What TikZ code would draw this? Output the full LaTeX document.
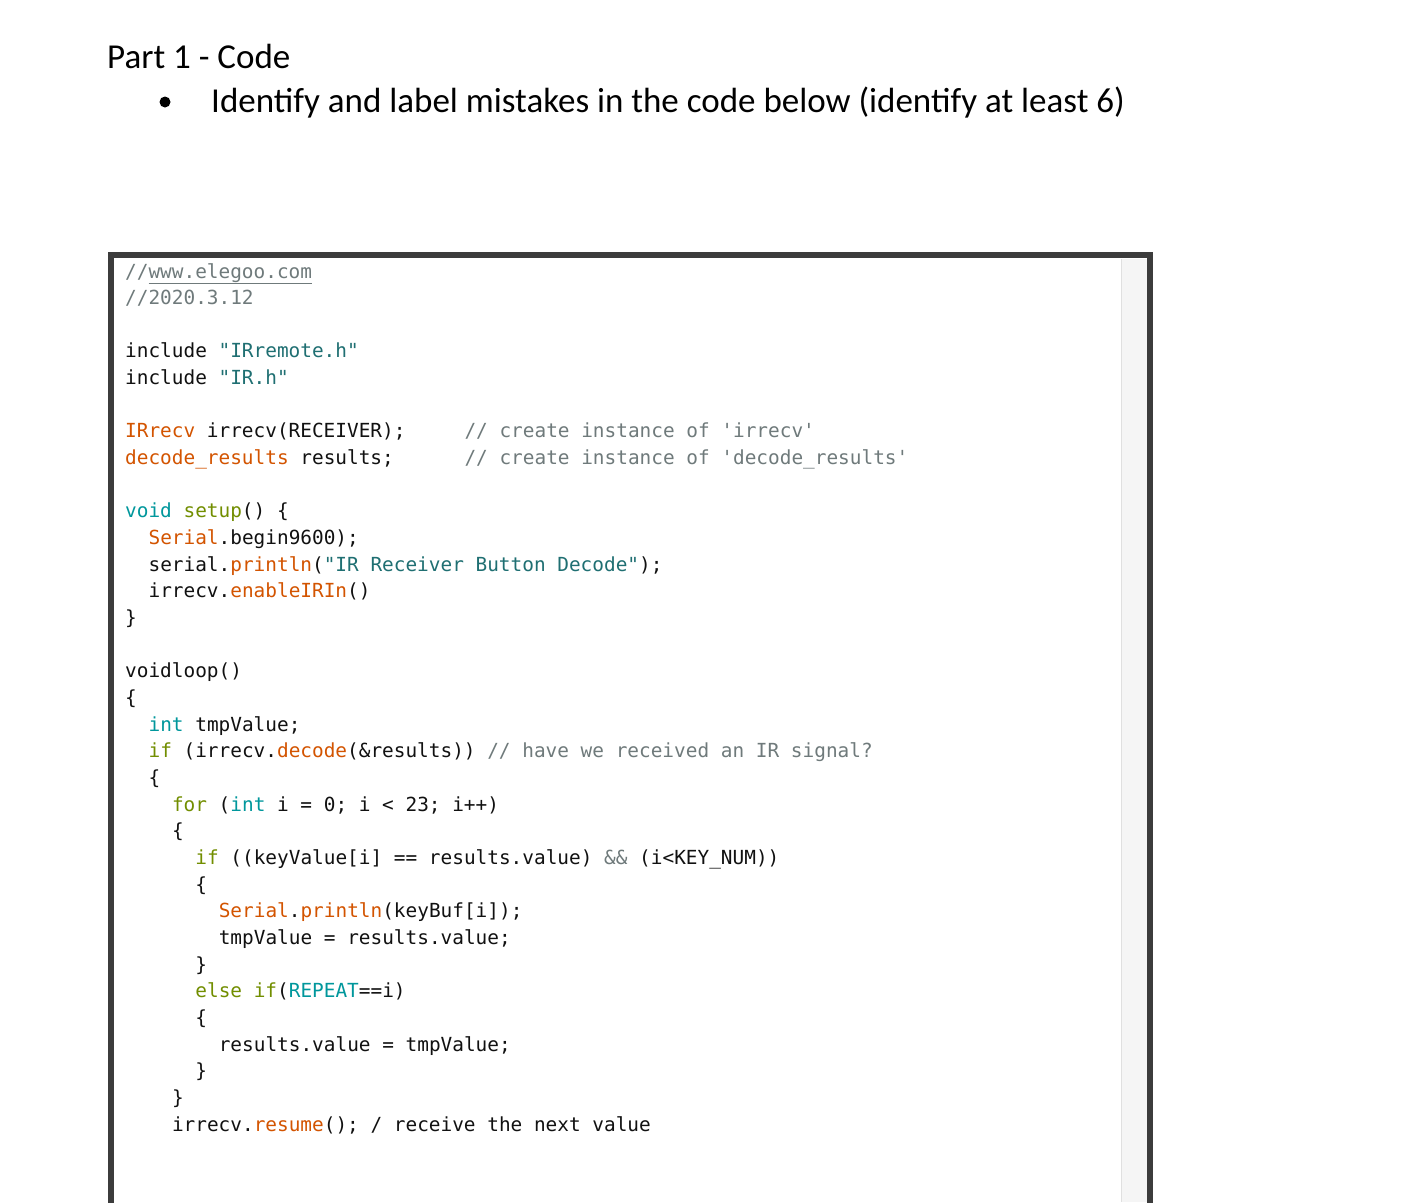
\documentclass[tikz,border=0pt]{standalone}
\usepackage{fontspec}
\setmainfont{Carlito}
\setmonofont{DejaVu Sans Mono}
\definecolor{kor}{HTML}{D35400}
\definecolor{kteal}{HTML}{00979C}
\definecolor{kol}{HTML}{728E00}
\definecolor{kstr}{HTML}{1F6F72}
\definecolor{kcom}{HTML}{6F7A7B}
\definecolor{ktxt}{HTML}{111111}
\definecolor{kframe}{HTML}{3C3C3C}
\newcommand{\OR}[1]{\textcolor{kor}{#1}}
\newcommand{\TE}[1]{\textcolor{kteal}{#1}}
\newcommand{\OL}[1]{\textcolor{kol}{#1}}
\newcommand{\ST}[1]{\textcolor{kstr}{#1}}
\newcommand{\CM}[1]{\textcolor{kcom}{#1}}
\begin{document}
\begin{tikzpicture}[x=1pt,y=1pt,
  code/.style={anchor=base west,inner sep=0pt,font=\ttfamily\fontsize{19.4}{20}\selectfont,text=ktxt},
  head/.style={anchor=base west,inner sep=0pt,font=\fontsize{35}{40}\selectfont,text=black}]
\useasboundingbox (0,0) rectangle (1424,-1202);
\fill[white] (0,0) rectangle (1424,-1202);
\node[head] (h1) at (107,-68) {Part 1 - Code};
\node[head] (h2) at (211,-112) {Identify and label mistakes in the code below (identify at least 6)};
\fill (165,-102) circle (5.5);
% frame
\fill[black!4] (1121,-259) rectangle (1147,-1202);
\draw[black!12,line width=1] (1121.5,-259) -- (1121.5,-1202);
\draw[kframe,line width=6] (111,-1210) -- (111,-255) -- (1150,-255) -- (1150,-1210);
\newcommand{\cl}[3]{\node[code] at ({125+11.7*#2},{-278-26.66*#1}) {#3};}
\cl{0}{0}{\CM{//\underline{www.elegoo.com}}}
\cl{1}{0}{\CM{//2020.3.12}}
\cl{3}{0}{include \ST{"IRremote.h"}}
\cl{4}{0}{include \ST{"IR.h"}}
\cl{6}{0}{\OR{IRrecv} irrecv(RECEIVER);}
\cl{6}{29}{\CM{// create instance of 'irrecv'}}
\cl{7}{0}{\OR{decode\_results} results;}
\cl{7}{29}{\CM{// create instance of 'decode\_results'}}
\cl{9}{0}{\TE{void} \OL{setup}() \{}
\cl{10}{2}{\OR{Serial}.begin9600);}
\cl{11}{2}{serial.\OR{println}(\ST{"IR Receiver Button Decode"});}
\cl{12}{2}{irrecv.\OR{enableIRIn}()}
\cl{13}{0}{\}}
\cl{15}{0}{voidloop()}
\cl{16}{0}{\{}
\cl{17}{2}{\TE{int} tmpValue;}
\cl{18}{2}{\OL{if} (irrecv.\OR{decode}(\&results)) \CM{// have we received an IR signal?}}
\cl{19}{2}{\{}
\cl{20}{4}{\OL{for} (\TE{int} i = 0; i < 23; i++)}
\cl{21}{4}{\{}
\cl{22}{6}{\OL{if} ((keyValue[i] == results.value) \CM{\&\&} (i<KEY\_NUM))}
\cl{23}{6}{\{}
\cl{24}{8}{\OR{Serial}.\OR{println}(keyBuf[i]);}
\cl{25}{8}{tmpValue = results.value;}
\cl{26}{6}{\}}
\cl{27}{6}{\OL{else} \OL{if}(\TE{REPEAT}==i)}
\cl{28}{6}{\{}
\cl{29}{8}{results.value = tmpValue;}
\cl{30}{6}{\}}
\cl{31}{4}{\}}
\cl{32}{4}{irrecv.\OR{resume}(); / receive the next value}
\end{tikzpicture}
\end{document}
